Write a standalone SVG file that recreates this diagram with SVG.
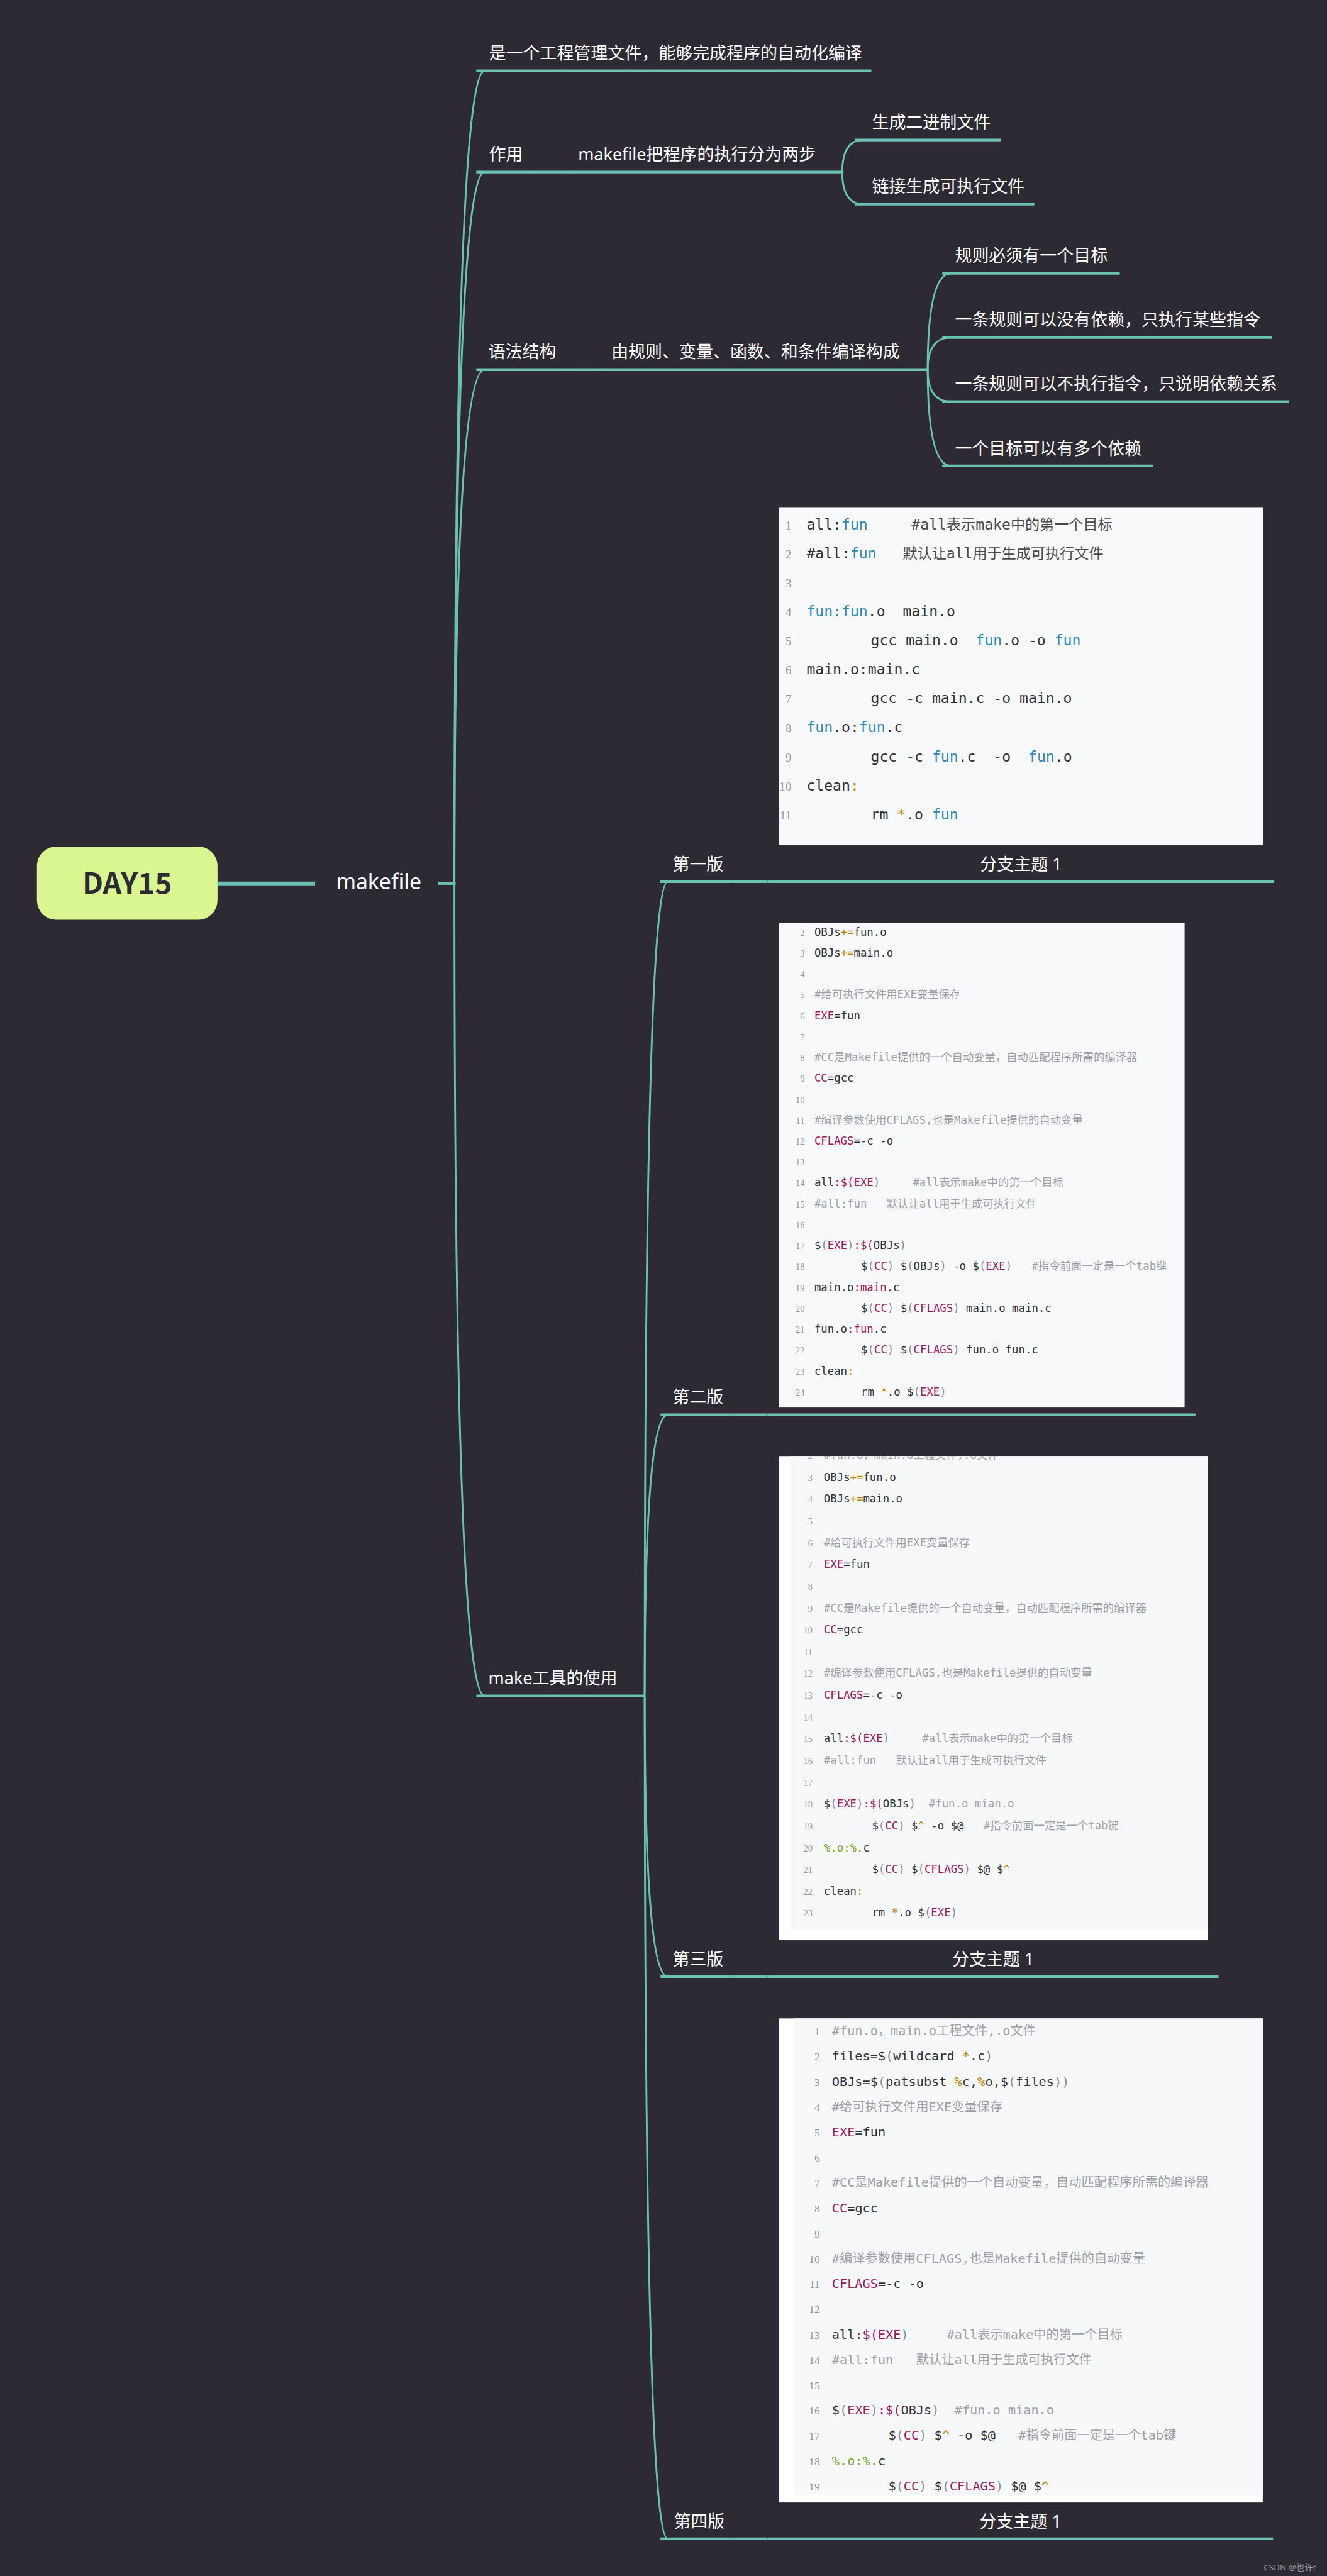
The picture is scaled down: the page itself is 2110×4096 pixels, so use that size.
<svg xmlns="http://www.w3.org/2000/svg" width="2110" height="4096" viewBox="0 0 2110 4096">
<defs>
<style>
.t{font-family:"Noto Sans","Noto Sans CJK SC",sans-serif;font-size:28px;fill:#ffffff}
.ul{stroke:#6ac3b2;stroke-width:4.5;fill:none}
.cn{stroke:#6ac3b2;stroke-width:3;fill:none}
.code{font-family:"DejaVu Sans Mono","Noto Sans CJK SC",monospace;fill:#303136}
.ln{font-family:"Liberation Serif","Noto Sans CJK SC",serif;fill:#9a9a9a;text-anchor:end}
.f1{font-size:24px}.f2{font-size:18px}.f4{font-size:21px}
.cm{fill:#a0a1a7}.cm1{fill:#4a4a4a}
.v{fill:#a0185a}.p{fill:#8c8c8c}.b{fill:#2b8bb8}.s{fill:#c18401}.g{fill:#78a52a}
</style>
<clipPath id="clip3"><rect x="1286" y="2403" width="707" height="799"/></clipPath>
</defs>
<rect x="0" y="0" width="2110" height="4096" fill="#2d2a33"/>
<g transform="scale(0.96347)">

<g id="connectors">
<path d="M359,1458 L520,1458" stroke="#6ac3b2" stroke-width="6" fill="none"/>
<path d="M723,1458 L752,1458" stroke="#6ac3b2" stroke-width="4.5" fill="none"/>
<path class="cn" d="M750,1458 Q750,117 800,117"/>
<path class="cn" d="M750,1458 Q750,284 800,284"/>
<path class="cn" d="M750,1458 Q750,610 800,610"/>
<path class="cn" d="M750,1458 Q750,2799 800,2799"/>
<path class="ul" d="M880,284 L936,284"/>
<path class="cn" d="M1390,284 Q1390,231 1425,231"/>
<path class="cn" d="M1390,284 Q1390,337 1425,337"/>
<path class="ul" d="M936,610 L992,610"/>
<path class="cn" d="M1531,610 Q1531,451 1570,451"/>
<path class="cn" d="M1531,610 Q1531,557 1570,557"/>
<path class="cn" d="M1531,610 Q1531,663 1570,663"/>
<path class="cn" d="M1531,610 Q1531,769 1570,769"/>
<path class="cn" d="M1061,2799 Q1064,2799 1064,2790 Q1064,1455 1102,1455"/>
<path class="cn" d="M1064,2799 Q1064,2335 1102,2335"/>
<path class="cn" d="M1064,2799 Q1064,3262 1102,3262"/>
<path class="cn" d="M1064,2799 Q1064,4190 1102,4190"/>
<path class="ul" d="M1209,1455 L1267,1455"/>
<path class="ul" d="M1211,2335 L1267,2335"/>
<path class="ul" d="M1211,3262 L1267,3262"/>
<path class="ul" d="M1211,4190 L1267,4190"/>
</g>

<g id="root">
<rect x="61" y="1397" width="298" height="121" rx="32" ry="32" fill="#daf691"/>
<text x="210" y="1475" text-anchor="middle" font-family="'Noto Sans CJK SC','Noto Sans',sans-serif" font-weight="bold" font-size="48" fill="#2d2a33">DAY15</text>
</g>

<g id="makefile">
<text x="625" y="1468" text-anchor="middle" class="t" style="font-size:35px">makefile</text>
</g>

<g id="n-a">
<path class="ul" d="M786,117 L1438,117"/>
<text class="t" x="807" y="98">是一个工程管理文件，能够完成程序的自动化编译</text>
</g>

<g id="n-b">
<path class="ul" d="M786,284 L880,284"/>
<text class="t" x="807" y="265">作用</text>
</g>
<g id="n-b1">
<path class="ul" d="M936,284 L1392,284"/>
<text class="t" x="954" y="265">makefile把程序的执行分为两步</text>
</g>
<g id="n-b1a">
<path class="ul" d="M1411,231 L1652,231"/>
<text class="t" x="1439" y="212">生成二进制文件</text>
</g>
<g id="n-b1b">
<path class="ul" d="M1411,337 L1707,337"/>
<text class="t" x="1439" y="318">链接生成可执行文件</text>
</g>

<g id="n-c">
<path class="ul" d="M786,610 L936,610"/>
<text class="t" x="806" y="591">语法结构</text>
</g>
<g id="n-c1">
<path class="ul" d="M992,610 L1531,610"/>
<text class="t" x="1009" y="591">由规则、变量、函数、和条件编译构成</text>
</g>
<g id="n-c1a">
<path class="ul" d="M1555,451 L1848,451"/>
<text class="t" x="1576" y="432">规则必须有一个目标</text>
</g>
<g id="n-c1b">
<path class="ul" d="M1555,557 L2099,557"/>
<text class="t" x="1576" y="538">一条规则可以没有依赖，只执行某些指令</text>
</g>
<g id="n-c1c">
<path class="ul" d="M1555,663 L2127,663"/>
<text class="t" x="1576" y="644">一条规则可以不执行指令，只说明依赖关系</text>
</g>
<g id="n-c1d">
<path class="ul" d="M1555,769 L1903,769"/>
<text class="t" x="1576" y="750">一个目标可以有多个依赖</text>
</g>

<g id="n-d">
<path class="ul" d="M786,2799 L1061,2799"/>
<text class="t" x="806" y="2780">make工具的使用</text>
</g>

<g id="n-v1">
<path class="ul" d="M1089,1455 L1209,1455"/>
<text class="t" x="1110" y="1436">第一版</text>
</g>
<g id="n-v1a">
<path class="ul" d="M1267,1455 L2103,1455"/>
<text class="t" x="1685" y="1436" text-anchor="middle">分支主题 1</text>
<rect x="1286" y="837" width="799" height="558" fill="#f8f9fb"/>
<g class="code f1">
<text class="ln" x="1306" y="874" font-size="20">1</text>
<text class="ln" x="1306" y="921.8" font-size="20">2</text>
<text class="ln" x="1306" y="969.6" font-size="20">3</text>
<text class="ln" x="1306" y="1017.4" font-size="20">4</text>
<text class="ln" x="1306" y="1065.2" font-size="20">5</text>
<text class="ln" x="1306" y="1113" font-size="20">6</text>
<text class="ln" x="1306" y="1160.8" font-size="20">7</text>
<text class="ln" x="1306" y="1208.6" font-size="20">8</text>
<text class="ln" x="1306" y="1256.4" font-size="20">9</text>
<text class="ln" x="1306" y="1304.2" font-size="20">10</text>
<text class="ln" x="1306" y="1352" font-size="20">11</text>
<text x="1331" y="874" xml:space="preserve">all:<tspan class="b">fun</tspan>     <tspan class="cm1">#all表示make中的第一个目标</tspan></text>
<text x="1331" y="921.8" xml:space="preserve">#all:<tspan class="b">fun</tspan>   <tspan class="cm1">默认让all用于生成可执行文件</tspan></text>
<text x="1331" y="1017.4" xml:space="preserve"><tspan class="b">fun:fun</tspan>.o  main.o</text>
<text x="1437" y="1065.2" xml:space="preserve">gcc main.o  <tspan class="b">fun</tspan>.o -o <tspan class="b">fun</tspan></text>
<text x="1331" y="1113" xml:space="preserve">main.o:main.c</text>
<text x="1437" y="1160.8" xml:space="preserve">gcc -c main.c -o main.o</text>
<text x="1331" y="1208.6" xml:space="preserve"><tspan class="b">fun</tspan>.o:<tspan class="b">fun</tspan>.c</text>
<text x="1437" y="1256.4" xml:space="preserve">gcc -c <tspan class="b">fun</tspan>.c  -o  <tspan class="b">fun</tspan>.o</text>
<text x="1331" y="1304.2" xml:space="preserve">clean<tspan class="s">:</tspan></text>
<text x="1437" y="1352" xml:space="preserve">rm <tspan class="s">*</tspan>.o <tspan class="b">fun</tspan></text>
</g>
</g>

<g id="n-v2">
<path class="ul" d="M1090,2335 L1211,2335"/>
<text class="t" x="1110" y="2316">第二版</text>
</g>
<g id="n-v2a">
<path class="ul" d="M1267,2335 L1973,2335"/>
<rect x="1286" y="1523" width="669" height="800" fill="#f8f9fb"/>
<g class="code f2">
<text class="ln" x="1328" y="1544" font-size="15">2</text>
<text class="ln" x="1328" y="1578.5" font-size="15">3</text>
<text class="ln" x="1328" y="1613" font-size="15">4</text>
<text class="ln" x="1328" y="1647.5" font-size="15">5</text>
<text class="ln" x="1328" y="1682" font-size="15">6</text>
<text class="ln" x="1328" y="1716.5" font-size="15">7</text>
<text class="ln" x="1328" y="1751" font-size="15">8</text>
<text class="ln" x="1328" y="1785.5" font-size="15">9</text>
<text class="ln" x="1328" y="1820" font-size="15">10</text>
<text class="ln" x="1328" y="1854.5" font-size="15">11</text>
<text class="ln" x="1328" y="1889" font-size="15">12</text>
<text class="ln" x="1328" y="1923.5" font-size="15">13</text>
<text class="ln" x="1328" y="1958" font-size="15">14</text>
<text class="ln" x="1328" y="1992.5" font-size="15">15</text>
<text class="ln" x="1328" y="2027" font-size="15">16</text>
<text class="ln" x="1328" y="2061.5" font-size="15">17</text>
<text class="ln" x="1328" y="2096" font-size="15">18</text>
<text class="ln" x="1328" y="2130.5" font-size="15">19</text>
<text class="ln" x="1328" y="2165" font-size="15">20</text>
<text class="ln" x="1328" y="2199.5" font-size="15">21</text>
<text class="ln" x="1328" y="2234" font-size="15">22</text>
<text class="ln" x="1328" y="2268.5" font-size="15">23</text>
<text class="ln" x="1328" y="2303" font-size="15">24</text>
<text x="1344" y="1544" xml:space="preserve">OBJs<tspan class="s">+=</tspan>fun.o</text>
<text x="1344" y="1578.5" xml:space="preserve">OBJs<tspan class="s">+=</tspan>main.o</text>
<text x="1344" y="1647.5" class="cm">#给可执行文件用EXE变量保存</text>
<text x="1344" y="1682" xml:space="preserve"><tspan class="v">EXE</tspan>=fun</text>
<text x="1344" y="1751" class="cm">#CC是Makefile提供的一个自动变量，自动匹配程序所需的编译器</text>
<text x="1344" y="1785.5" xml:space="preserve"><tspan class="v">CC</tspan>=gcc</text>
<text x="1344" y="1854.5" class="cm">#编译参数使用CFLAGS,也是Makefile提供的自动变量</text>
<text x="1344" y="1889" xml:space="preserve"><tspan class="v">CFLAGS</tspan>=-c -o</text>
<text x="1344" y="1958" xml:space="preserve">all<tspan class="v">:$(EXE</tspan><tspan class="p">)</tspan>     <tspan class="cm">#all表示make中的第一个目标</tspan></text>
<text x="1344" y="1992.5" xml:space="preserve" class="cm">#all:fun   默认让all用于生成可执行文件</text>
<text x="1344" y="2061.5" xml:space="preserve">$<tspan class="p">(</tspan><tspan class="v">EXE</tspan><tspan class="p">)</tspan><tspan class="v">:$(</tspan>OBJs<tspan class="p">)</tspan></text>
<text x="1421" y="2096" xml:space="preserve">$<tspan class="p">(</tspan><tspan class="v">CC</tspan><tspan class="p">)</tspan> $<tspan class="p">(</tspan>OBJs<tspan class="p">)</tspan> -o $<tspan class="p">(</tspan><tspan class="v">EXE</tspan><tspan class="p">)</tspan>   <tspan class="cm">#指令前面一定是一个tab键</tspan></text>
<text x="1344" y="2130.5" xml:space="preserve">main.o<tspan class="v">:main</tspan>.c</text>
<text x="1421" y="2165" xml:space="preserve">$<tspan class="p">(</tspan><tspan class="v">CC</tspan><tspan class="p">)</tspan> $<tspan class="p">(</tspan><tspan class="v">CFLAGS</tspan><tspan class="p">)</tspan> main.o main.c</text>
<text x="1344" y="2199.5" xml:space="preserve">fun.o<tspan class="v">:fun</tspan>.c</text>
<text x="1421" y="2234" xml:space="preserve">$<tspan class="p">(</tspan><tspan class="v">CC</tspan><tspan class="p">)</tspan> $<tspan class="p">(</tspan><tspan class="v">CFLAGS</tspan><tspan class="p">)</tspan> fun.o fun.c</text>
<text x="1344" y="2268.5" xml:space="preserve">clean<tspan class="s">:</tspan></text>
<text x="1421" y="2303" xml:space="preserve">rm <tspan class="s">*</tspan>.o $<tspan class="p">(</tspan><tspan class="v">EXE</tspan><tspan class="p">)</tspan></text>
</g>
</g>

<g id="n-v3">
<path class="ul" d="M1090,3262 L1211,3262"/>
<text class="t" x="1110" y="3243">第三版</text>
</g>
<g id="n-v3a">
<path class="ul" d="M1267,3262 L2011,3262"/>
<text class="t" x="1639" y="3243" text-anchor="middle">分支主题 1</text>
<rect x="1286" y="2403" width="707" height="799" fill="#ffffff"/>
<rect x="1304" y="2403" width="689" height="783" fill="#f6f8fa"/>
<g class="code f2" clip-path="url(#clip3)">
<text class="ln" x="1341" y="2408" font-size="15">2</text>
<text class="ln" x="1341" y="2444" font-size="15">3</text>
<text class="ln" x="1341" y="2480" font-size="15">4</text>
<text class="ln" x="1341" y="2515.9" font-size="15">5</text>
<text class="ln" x="1341" y="2551.9" font-size="15">6</text>
<text class="ln" x="1341" y="2587.8" font-size="15">7</text>
<text class="ln" x="1341" y="2623.8" font-size="15">8</text>
<text class="ln" x="1341" y="2659.7" font-size="15">9</text>
<text class="ln" x="1341" y="2695.7" font-size="15">10</text>
<text class="ln" x="1341" y="2731.6" font-size="15">11</text>
<text class="ln" x="1341" y="2767.6" font-size="15">12</text>
<text class="ln" x="1341" y="2803.5" font-size="15">13</text>
<text class="ln" x="1341" y="2839.5" font-size="15">14</text>
<text class="ln" x="1341" y="2875.4" font-size="15">15</text>
<text class="ln" x="1341" y="2911.4" font-size="15">16</text>
<text class="ln" x="1341" y="2947.3" font-size="15">17</text>
<text class="ln" x="1341" y="2983.3" font-size="15">18</text>
<text class="ln" x="1341" y="3019.2" font-size="15">19</text>
<text class="ln" x="1341" y="3055.2" font-size="15">20</text>
<text class="ln" x="1341" y="3091.1" font-size="15">21</text>
<text class="ln" x="1341" y="3127.1" font-size="15">22</text>
<text class="ln" x="1341" y="3163" font-size="15">23</text>
<text x="1359.5" y="2408" class="cm">#fun.o，main.o工程文件,.o文件</text>
<text x="1359.5" y="2444" xml:space="preserve">OBJs<tspan class="s">+=</tspan>fun.o</text>
<text x="1359.5" y="2480" xml:space="preserve">OBJs<tspan class="s">+=</tspan>main.o</text>
<text x="1359.5" y="2551.9" class="cm">#给可执行文件用EXE变量保存</text>
<text x="1359.5" y="2587.8" xml:space="preserve"><tspan class="v">EXE</tspan>=fun</text>
<text x="1359.5" y="2659.7" class="cm">#CC是Makefile提供的一个自动变量，自动匹配程序所需的编译器</text>
<text x="1359.5" y="2695.7" xml:space="preserve"><tspan class="v">CC</tspan>=gcc</text>
<text x="1359.5" y="2767.6" class="cm">#编译参数使用CFLAGS,也是Makefile提供的自动变量</text>
<text x="1359.5" y="2803.5" xml:space="preserve"><tspan class="v">CFLAGS</tspan>=-c -o</text>
<text x="1359.5" y="2875.4" xml:space="preserve">all<tspan class="v">:$(EXE</tspan><tspan class="p">)</tspan>     <tspan class="cm">#all表示make中的第一个目标</tspan></text>
<text x="1359.5" y="2911.4" xml:space="preserve" class="cm">#all:fun   默认让all用于生成可执行文件</text>
<text x="1359.5" y="2983.3" xml:space="preserve">$<tspan class="p">(</tspan><tspan class="v">EXE</tspan><tspan class="p">)</tspan><tspan class="v">:$(</tspan>OBJs<tspan class="p">)</tspan>  <tspan class="cm">#fun.o mian.o</tspan></text>
<text x="1439" y="3019.2" xml:space="preserve">$<tspan class="p">(</tspan><tspan class="v">CC</tspan><tspan class="p">)</tspan> $<tspan class="s">^</tspan> -o $@   <tspan class="cm">#指令前面一定是一个tab键</tspan></text>
<text x="1359.5" y="3055.2" xml:space="preserve"><tspan class="g">%.o:%.</tspan>c</text>
<text x="1439" y="3091.1" xml:space="preserve">$<tspan class="p">(</tspan><tspan class="v">CC</tspan><tspan class="p">)</tspan> $<tspan class="p">(</tspan><tspan class="v">CFLAGS</tspan><tspan class="p">)</tspan> $@ $<tspan class="s">^</tspan></text>
<text x="1359.5" y="3127.1" xml:space="preserve">clean<tspan class="s">:</tspan></text>
<text x="1439" y="3163" xml:space="preserve">rm <tspan class="s">*</tspan>.o $<tspan class="p">(</tspan><tspan class="v">EXE</tspan><tspan class="p">)</tspan></text>
</g>
</g>

<g id="n-v4">
<path class="ul" d="M1090,4190 L1211,4190"/>
<text class="t" x="1112" y="4171">第四版</text>
</g>
<g id="n-v4a">
<path class="ul" d="M1267,4190 L2101,4190"/>
<text class="t" x="1684" y="4171" text-anchor="middle">分支主题 1</text>
<rect x="1286" y="3331" width="798" height="799" fill="#ffffff"/>
<rect x="1310" y="3331" width="774" height="787" fill="#f6f8fa"/>
<g class="code f4">
<text class="ln" x="1353" y="3359" font-size="18">1</text>
<text class="ln" x="1353" y="3400.7" font-size="18">2</text>
<text class="ln" x="1353" y="3442.4" font-size="18">3</text>
<text class="ln" x="1353" y="3484.2" font-size="18">4</text>
<text class="ln" x="1353" y="3525.9" font-size="18">5</text>
<text class="ln" x="1353" y="3567.6" font-size="18">6</text>
<text class="ln" x="1353" y="3609.3" font-size="18">7</text>
<text class="ln" x="1353" y="3651" font-size="18">8</text>
<text class="ln" x="1353" y="3692.8" font-size="18">9</text>
<text class="ln" x="1353" y="3734.5" font-size="18">10</text>
<text class="ln" x="1353" y="3776.2" font-size="18">11</text>
<text class="ln" x="1353" y="3817.9" font-size="18">12</text>
<text class="ln" x="1353" y="3859.6" font-size="18">13</text>
<text class="ln" x="1353" y="3901.4" font-size="18">14</text>
<text class="ln" x="1353" y="3943.1" font-size="18">15</text>
<text class="ln" x="1353" y="3984.8" font-size="18">16</text>
<text class="ln" x="1353" y="4026.5" font-size="18">17</text>
<text class="ln" x="1353" y="4068.2" font-size="18">18</text>
<text class="ln" x="1353" y="4110" font-size="18">19</text>
<text x="1373" y="3359" class="cm">#fun.o，main.o工程文件,.o文件</text>
<text x="1373" y="3400.7" xml:space="preserve">files=$<tspan class="p">(</tspan>wildcard <tspan class="s">*</tspan>.c<tspan class="p">)</tspan></text>
<text x="1373" y="3442.4" xml:space="preserve">OBJs=$<tspan class="p">(</tspan>patsubst <tspan class="s">%</tspan>c,<tspan class="s">%</tspan>o,$<tspan class="p">(</tspan>files<tspan class="p">))</tspan></text>
<text x="1373" y="3484.2" class="cm">#给可执行文件用EXE变量保存</text>
<text x="1373" y="3525.9" xml:space="preserve"><tspan class="v">EXE</tspan>=fun</text>
<text x="1373" y="3609.3" class="cm">#CC是Makefile提供的一个自动变量，自动匹配程序所需的编译器</text>
<text x="1373" y="3651" xml:space="preserve"><tspan class="v">CC</tspan>=gcc</text>
<text x="1373" y="3734.5" class="cm">#编译参数使用CFLAGS,也是Makefile提供的自动变量</text>
<text x="1373" y="3776.2" xml:space="preserve"><tspan class="v">CFLAGS</tspan>=-c -o</text>
<text x="1373" y="3859.6" xml:space="preserve">all<tspan class="v">:$(EXE</tspan><tspan class="p">)</tspan>     <tspan class="cm">#all表示make中的第一个目标</tspan></text>
<text x="1373" y="3901.4" xml:space="preserve" class="cm">#all:fun   默认让all用于生成可执行文件</text>
<text x="1373" y="3984.8" xml:space="preserve">$<tspan class="p">(</tspan><tspan class="v">EXE</tspan><tspan class="p">)</tspan><tspan class="v">:$(</tspan>OBJs<tspan class="p">)</tspan>  <tspan class="cm">#fun.o mian.o</tspan></text>
<text x="1466" y="4026.5" xml:space="preserve">$<tspan class="p">(</tspan><tspan class="v">CC</tspan><tspan class="p">)</tspan> $<tspan class="s">^</tspan> -o $@   <tspan class="cm">#指令前面一定是一个tab键</tspan></text>
<text x="1373" y="4068.2" xml:space="preserve"><tspan class="g">%.o:%.</tspan>c</text>
<text x="1466" y="4110" xml:space="preserve">$<tspan class="p">(</tspan><tspan class="v">CC</tspan><tspan class="p">)</tspan> $<tspan class="p">(</tspan><tspan class="v">CFLAGS</tspan><tspan class="p">)</tspan> $@ $<tspan class="s">^</tspan></text>
</g>
</g>

<text x="2172" y="4242" text-anchor="end" font-family="'Noto Sans','Noto Sans CJK SC',sans-serif" font-size="14" fill="#9a9a9a">CSDN @也许t</text>
</g>
</svg>
